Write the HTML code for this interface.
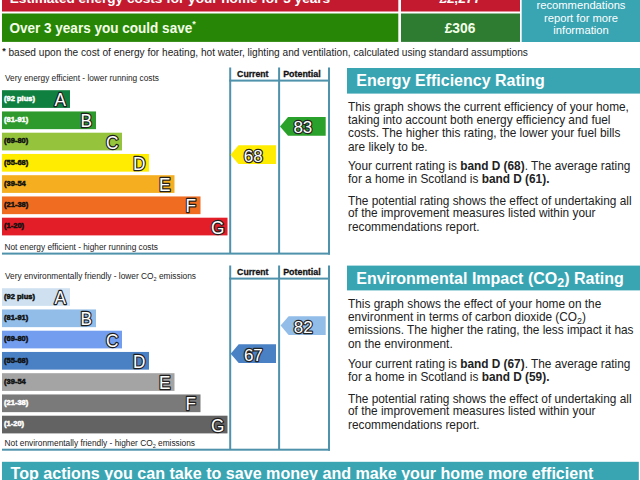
<!DOCTYPE html>
<html><head><meta charset="utf-8"><style>
html,body{margin:0;padding:0;background:#fff;width:640px;height:480px;overflow:hidden}
svg{display:block;font-family:"Liberation Sans", sans-serif}
</style></head><body>
<svg width="640" height="480" viewBox="0 0 640 480">
<rect x="2" y="-10" width="396.3" height="21.5" fill="#c31a30"/>
<rect x="401" y="-10" width="119" height="21.5" fill="#c31a30"/>
<rect x="2" y="13.5" width="396.3" height="28.4" fill="#288606"/>
<rect x="401" y="13.5" width="119" height="28.4" fill="#2e7c32"/>
<rect x="521.7" y="-10" width="120" height="52" fill="#39a5b3"/>
<text x="9.8" y="2.5" font-size="13.6" font-weight="bold" fill="#fff">Estimated energy costs for your home for 3 years</text>
<text x="460" y="2.5" font-size="13.5" font-weight="bold" fill="#fff" text-anchor="middle">£2,277</text>
<text transform="translate(9.4,32.6) scale(1,1.07)" font-size="13.55" font-weight="bold" fill="#f4ffe8">Over 3 years you could save<tspan font-size="9" dy="-5">*</tspan></text>
<text x="460" y="32.5" font-size="13.8" font-weight="bold" fill="#f4ffe8" text-anchor="middle">£306</text>
<text x="581" y="9.0" font-size="11.2" fill="#fff" text-anchor="middle">recommendations</text>
<text x="581" y="21.6" font-size="11.2" fill="#fff" text-anchor="middle">report for more</text>
<text x="581" y="34.4" font-size="11.2" fill="#fff" text-anchor="middle">information</text>
<text x="2.2" y="53.5" font-size="9" font-weight="bold" fill="#222222">*</text>
<text x="8.4" y="55.9" font-size="10.14" fill="#222222">based upon the cost of energy for heating, hot water, lighting and ventilation, calculated using standard assumptions</text>
<rect x="2" y="90.20" width="68" height="17.7" fill="#0f8040"/>
<text x="4.1" y="100.80" font-size="7.5" font-weight="bold" fill="#fff" stroke="#fff" stroke-width="0.5">(92 plus)</text>
<text transform="translate(60.2,106.00) scale(1,1.07)" font-size="17.2" fill="#fff" stroke="#1e1e1e" stroke-width="2.3" stroke-linejoin="round" paint-order="stroke" text-anchor="middle">A</text>
<rect x="2" y="111.45" width="94" height="17.7" fill="#2e9a2e"/>
<text x="4.1" y="122.05" font-size="7.5" font-weight="bold" fill="#fff" stroke="#fff" stroke-width="0.5">(81-91)</text>
<text transform="translate(86.2,127.25) scale(1,1.07)" font-size="17.2" fill="#fff" stroke="#1e1e1e" stroke-width="2.3" stroke-linejoin="round" paint-order="stroke" text-anchor="middle">B</text>
<rect x="2" y="132.70" width="120" height="17.7" fill="#95c43c"/>
<text x="4.1" y="143.30" font-size="7.5" font-weight="bold" fill="#111" stroke="#111" stroke-width="0.5">(69-80)</text>
<text transform="translate(112.2,148.50) scale(1,1.07)" font-size="17.2" fill="#fff" stroke="#1e1e1e" stroke-width="2.3" stroke-linejoin="round" paint-order="stroke" text-anchor="middle">C</text>
<rect x="2" y="153.95" width="147" height="17.7" fill="#ffec00"/>
<text x="4.1" y="164.55" font-size="7.5" font-weight="bold" fill="#111" stroke="#111" stroke-width="0.5">(55-68)</text>
<text transform="translate(139.2,169.75) scale(1,1.07)" font-size="17.2" fill="#fff" stroke="#1e1e1e" stroke-width="2.3" stroke-linejoin="round" paint-order="stroke" text-anchor="middle">D</text>
<rect x="2" y="175.20" width="172.5" height="17.7" fill="#f5ae20"/>
<text x="4.1" y="185.80" font-size="7.5" font-weight="bold" fill="#111" stroke="#111" stroke-width="0.5">(39-54</text>
<text transform="translate(164.7,191.00) scale(1,1.07)" font-size="17.2" fill="#fff" stroke="#1e1e1e" stroke-width="2.3" stroke-linejoin="round" paint-order="stroke" text-anchor="middle">E</text>
<rect x="2" y="196.45" width="198.5" height="17.7" fill="#ef6c20"/>
<text x="4.1" y="207.05" font-size="7.5" font-weight="bold" fill="#111" stroke="#111" stroke-width="0.5">(21-38)</text>
<text transform="translate(190.7,212.25) scale(1,1.07)" font-size="17.2" fill="#fff" stroke="#1e1e1e" stroke-width="2.3" stroke-linejoin="round" paint-order="stroke" text-anchor="middle">F</text>
<rect x="2" y="217.70" width="225.5" height="17.7" fill="#e31e28"/>
<text x="4.1" y="228.30" font-size="7.5" font-weight="bold" fill="#111" stroke="#111" stroke-width="0.5">(1-20)</text>
<text transform="translate(217.7,233.50) scale(1,1.07)" font-size="17.2" fill="#fff" stroke="#1e1e1e" stroke-width="2.3" stroke-linejoin="round" paint-order="stroke" text-anchor="middle">G</text>
<text x="5" y="81.1" font-size="8.3" fill="#222222">Very energy efficient - lower running costs</text>
<text x="4.5" y="250.1" font-size="8.3" fill="#222222">Not energy efficient - higher running costs</text>
<rect x="229.2" y="67.5" width="2" height="186.1" fill="#4f92ab"/>
<rect x="278.1" y="67.5" width="2" height="186.1" fill="#4f92ab"/>
<rect x="328" y="67.5" width="2" height="187.1" fill="#4f92ab"/>
<rect x="229.2" y="79.6" width="100.8" height="2" fill="#4f92ab"/>
<rect x="2" y="252.6" width="328" height="2" fill="#4f92ab"/>
<text x="252.8" y="76.9" font-size="8.7" font-weight="bold" fill="#111" stroke="#111" stroke-width="0.3" text-anchor="middle">Current</text>
<text x="301.9" y="76.9" font-size="8.9" font-weight="bold" fill="#111" stroke="#111" stroke-width="0.3" text-anchor="middle">Potential</text>
<polygon points="230.5,154.65 238.5,145.25 276,145.25 276,164.05 238.5,164.05" fill="#ffec00"/>
<text x="253.25" y="161.65" font-size="17" fill="#fff" stroke="#222" stroke-width="2.4" stroke-linejoin="round" paint-order="stroke" text-anchor="middle">68</text>
<polygon points="280,126.4 288,117.0 325.7,117.0 325.7,135.8 288,135.8" fill="#2aa12a"/>
<text x="302.85" y="133.40" font-size="17" fill="#fff" stroke="#222" stroke-width="2.4" stroke-linejoin="round" paint-order="stroke" text-anchor="middle">83</text>
<rect x="2" y="288.20" width="68" height="17.7" fill="#cfe1f1"/>
<text x="4.1" y="298.80" font-size="7.5" font-weight="bold" fill="#111" stroke="#111" stroke-width="0.5">(92 plus)</text>
<text transform="translate(60.2,304.00) scale(1,1.07)" font-size="17.2" fill="#fff" stroke="#1e1e1e" stroke-width="2.3" stroke-linejoin="round" paint-order="stroke" text-anchor="middle">A</text>
<rect x="2" y="309.45" width="94" height="17.7" fill="#92bde8"/>
<text x="4.1" y="320.05" font-size="7.5" font-weight="bold" fill="#111" stroke="#111" stroke-width="0.5">(81-91)</text>
<text transform="translate(86.2,325.25) scale(1,1.07)" font-size="17.2" fill="#fff" stroke="#1e1e1e" stroke-width="2.3" stroke-linejoin="round" paint-order="stroke" text-anchor="middle">B</text>
<rect x="2" y="330.70" width="120" height="17.7" fill="#739ef0"/>
<text x="4.1" y="341.30" font-size="7.5" font-weight="bold" fill="#111" stroke="#111" stroke-width="0.5">(69-80)</text>
<text transform="translate(112.2,346.50) scale(1,1.07)" font-size="17.2" fill="#fff" stroke="#1e1e1e" stroke-width="2.3" stroke-linejoin="round" paint-order="stroke" text-anchor="middle">C</text>
<rect x="2" y="351.95" width="147" height="17.7" fill="#4a80c4"/>
<text x="4.1" y="362.55" font-size="7.5" font-weight="bold" fill="#111" stroke="#111" stroke-width="0.5">(55-68)</text>
<text transform="translate(139.2,367.75) scale(1,1.07)" font-size="17.2" fill="#fff" stroke="#1e1e1e" stroke-width="2.3" stroke-linejoin="round" paint-order="stroke" text-anchor="middle">D</text>
<rect x="2" y="373.20" width="172.5" height="17.7" fill="#a4a4a4"/>
<text x="4.1" y="383.80" font-size="7.5" font-weight="bold" fill="#111" stroke="#111" stroke-width="0.5">(39-54</text>
<text transform="translate(164.7,389.00) scale(1,1.07)" font-size="17.2" fill="#fff" stroke="#1e1e1e" stroke-width="2.3" stroke-linejoin="round" paint-order="stroke" text-anchor="middle">E</text>
<rect x="2" y="394.45" width="198.5" height="17.7" fill="#7a7a7a"/>
<text x="4.1" y="405.05" font-size="7.5" font-weight="bold" fill="#fff" stroke="#fff" stroke-width="0.5">(21-38)</text>
<text transform="translate(190.7,410.25) scale(1,1.07)" font-size="17.2" fill="#fff" stroke="#1e1e1e" stroke-width="2.3" stroke-linejoin="round" paint-order="stroke" text-anchor="middle">F</text>
<rect x="2" y="415.70" width="225.5" height="17.7" fill="#636363"/>
<text x="4.1" y="426.30" font-size="7.5" font-weight="bold" fill="#fff" stroke="#fff" stroke-width="0.5">(1-20)</text>
<text transform="translate(217.7,431.50) scale(1,1.07)" font-size="17.2" fill="#fff" stroke="#1e1e1e" stroke-width="2.3" stroke-linejoin="round" paint-order="stroke" text-anchor="middle">G</text>
<text x="5" y="279.1" font-size="8.33" fill="#222222">Very environmentally friendly - lower CO<tspan font-size="5.5" dy="2">2</tspan><tspan dy="-2"> emissions</tspan></text>
<text x="4.5" y="446.2" font-size="8.33" fill="#222222">Not environmentally friendly - higher CO<tspan font-size="5.5" dy="2">2</tspan><tspan dy="-2"> emissions</tspan></text>
<rect x="229.2" y="265.5" width="2" height="184.2" fill="#4f92ab"/>
<rect x="278.1" y="265.5" width="2" height="184.2" fill="#4f92ab"/>
<rect x="328" y="265.5" width="2" height="185.2" fill="#4f92ab"/>
<rect x="229.2" y="277.6" width="100.8" height="2" fill="#4f92ab"/>
<rect x="2" y="448.7" width="328" height="2" fill="#4f92ab"/>
<text x="252.8" y="274.9" font-size="8.7" font-weight="bold" fill="#111" stroke="#111" stroke-width="0.3" text-anchor="middle">Current</text>
<text x="301.9" y="274.9" font-size="8.9" font-weight="bold" fill="#111" stroke="#111" stroke-width="0.3" text-anchor="middle">Potential</text>
<polygon points="230.7,353.65 238.7,344.25 276,344.25 276,363.04999999999995 238.7,363.04999999999995" fill="#4a80c4"/>
<text x="253.35" y="360.65" font-size="17" fill="#fff" stroke="#222" stroke-width="2.4" stroke-linejoin="round" paint-order="stroke" text-anchor="middle">67</text>
<polygon points="280.6,325.6 288.6,316.20000000000005 325.7,316.20000000000005 325.7,335.0 288.6,335.0" fill="#92bde8"/>
<text x="303.15" y="332.60" font-size="17" fill="#fff" stroke="#222" stroke-width="2.4" stroke-linejoin="round" paint-order="stroke" text-anchor="middle">82</text>
<rect x="347" y="68.0" width="293" height="25.6" fill="#39a5b3"/>
<text x="356.3" y="85.6" font-size="16" font-weight="bold" fill="#fff">Energy Efficiency Rating</text>
<text x="348" y="111.2" font-size="11.85" fill="#222222">This graph shows the current efficiency of your home,</text>
<text x="348" y="124.0" font-size="11.85" fill="#222222">taking into account both energy efficiency and fuel</text>
<text x="348" y="137.3" font-size="11.85" fill="#222222">costs. The higher this rating, the lower your fuel bills</text>
<text x="348" y="150.7" font-size="11.85" fill="#222222">are likely to be.</text>
<text x="348" y="170.2" font-size="11.85" fill="#222222">Your current rating is <tspan font-weight="bold">band D (68)</tspan>. The average rating</text>
<text x="348" y="183.2" font-size="11.85" fill="#222222">for a home in Scotland is <tspan font-weight="bold">band D (61).</tspan></text>
<text x="348" y="204.5" font-size="11.85" fill="#222222">The potential rating shows the effect of undertaking all</text>
<text x="348" y="217.3" font-size="11.85" fill="#222222">of the improvement measures listed within your</text>
<text x="348" y="230.7" font-size="11.85" fill="#222222">recommendations report.</text>
<rect x="347" y="265.6" width="293" height="24.8" fill="#39a5b3"/>
<text x="356.3" y="283.6" font-size="16" font-weight="bold" fill="#fff">Environmental Impact (CO<tspan font-size="12.5" dy="3.2">2</tspan><tspan dy="-3.2">) Rating</tspan></text>
<text x="348" y="307.8" font-size="11.85" fill="#222222">This graph shows the effect of your home on the</text>
<text x="348" y="321.1" font-size="11.85" fill="#222222">environment in terms of carbon dioxide (CO<tspan font-size="9" dy="2.5">2</tspan><tspan dy="-2.5">)</tspan></text>
<text x="348" y="334.4" font-size="11.85" fill="#222222">emissions. The higher the rating, the less impact it has</text>
<text x="348" y="347.79999999999995" font-size="11.85" fill="#222222">on the environment.</text>
<text x="348" y="368.2" font-size="11.85" fill="#222222">Your current rating is <tspan font-weight="bold">band D (67)</tspan>. The average rating</text>
<text x="348" y="381.2" font-size="11.85" fill="#222222">for a home in Scotland is <tspan font-weight="bold">band D (59).</tspan></text>
<text x="348" y="402.5" font-size="11.85" fill="#222222">The potential rating shows the effect of undertaking all</text>
<text x="348" y="415.3" font-size="11.85" fill="#222222">of the improvement measures listed within your</text>
<text x="348" y="428.7" font-size="11.85" fill="#222222">recommendations report.</text>
<rect x="2" y="461.8" width="636.8" height="30" fill="#39a5b3"/>
<text x="10.6" y="479.2" font-size="16.1" font-weight="bold" fill="#fff">Top actions you can take to save money and make your home more efficient</text>
</svg>
</body></html>
